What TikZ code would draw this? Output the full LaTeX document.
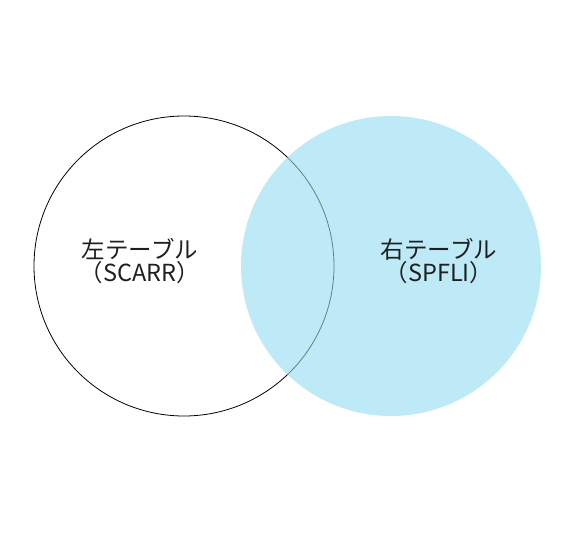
\documentclass[tikz,border=0pt]{standalone}
\usepackage{fontspec}
\newfontfamily\jpfont{Noto Sans CJK JP}
\begin{document}
\begin{tikzpicture}[x=1pt,y=-1pt,
  lbl/.style={font=\jpfont\fontsize{23.5}{23}\selectfont,align=center,inner sep=0pt,text=black!88}]
\useasboundingbox (0,0) rectangle (565,540);
\draw[line width=0.8pt,black] (184,266) circle (150);
\fill[fill={rgb,255:red,147;green,218;blue,240},fill opacity=0.6] (391,266) circle (150);
\node[lbl] (l) at (140,261) {左テーブル\\（SCARR）};
\node[lbl] (r) at (439,261) {右テーブル\\（SPFLI）};
\end{tikzpicture}
\end{document}
